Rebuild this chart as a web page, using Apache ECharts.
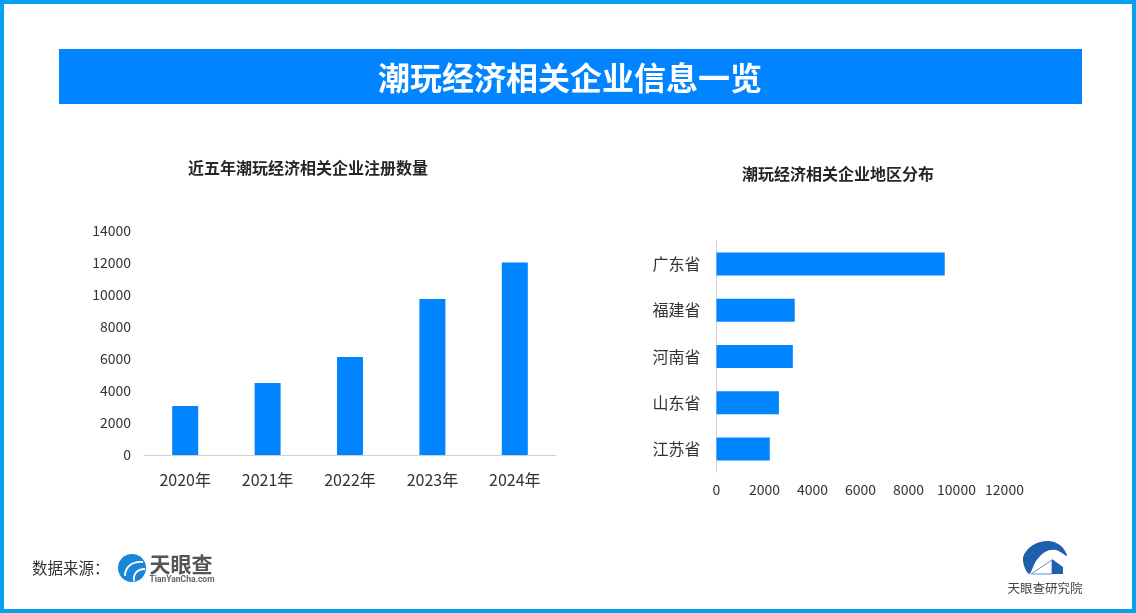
<!DOCTYPE html>
<html>
<head>
<meta charset="utf-8">
<style>
html, body { margin: 0; padding: 0; background: #fff; }
#main { width: 1136px; height: 613px; }
</style>
<script src="https://cdn.jsdelivr.net/npm/echarts@6/dist/echarts.min.js"></script>
</head>
<body>
<div id="main"></div>
<script>
var years = ['2020年', '2021年', '2022年', '2023年', '2024年'];
var yearValues = [3060, 4500, 6130, 9750, 12030];
var provinces = ['广东省', '福建省', '河南省', '山东省', '江苏省'];
var provinceValues = [9510, 3260, 3180, 2600, 2220];

var FONT = '"Noto Sans CJK SC", sans-serif';
var BLUE = '#0084ff';
var TEXT = '#333333';

// 刻度不要千分位
function plainNumber(v) {
    return String(v);
}

var chart = echarts.init(document.getElementById('main'));

var option = {
    backgroundColor: '#ffffff',
    animation: false,
    textStyle: { fontFamily: FONT },
    title: [
        {
            text: '近五年潮玩经济相关企业注册数量',
            left: 303, top: 155, textAlign: 'center',
            textStyle: { fontFamily: FONT, fontSize: 16, fontWeight: 'bold', color: '#262626' }
        },
        {
            text: '潮玩经济相关企业地区分布',
            left: 833, top: 161, textAlign: 'center',
            textStyle: { fontFamily: FONT, fontSize: 16, fontWeight: 'bold', color: '#262626' }
        }
    ],
    grid: [
        { left: 144, top: 231, width: 412, height: 224 },
        { left: 716.5, top: 241, width: 288, height: 231 }
    ],
    xAxis: [
        {
            gridIndex: 0,
            type: 'category',
            data: years,
            axisLine: { lineStyle: { color: '#d0d0d0', width: 1 } },
            axisTick: { show: false },
            axisLabel: { fontFamily: FONT, fontSize: 16, color: TEXT, margin: 17 }
        },
        {
            gridIndex: 1,
            type: 'value',
            min: 0, max: 12000, interval: 2000,
            axisLine: { show: false },
            axisTick: { show: false },
            splitLine: { show: false },
            axisLabel: { fontFamily: FONT, fontSize: 14, color: TEXT, margin: 11, formatter: plainNumber }
        }
    ],
    yAxis: [
        {
            gridIndex: 0,
            type: 'value',
            min: 0, max: 14000, interval: 2000,
            axisLine: { show: false },
            axisTick: { show: false },
            splitLine: { show: false },
            axisLabel: { fontFamily: FONT, fontSize: 14, color: TEXT, margin: 13, formatter: plainNumber }
        },
        {
            gridIndex: 1,
            type: 'category',
            inverse: true,
            data: provinces,
            axisLine: { lineStyle: { color: '#d0d0d0', width: 1 } },
            axisTick: { show: false },
            axisLabel: { fontFamily: FONT, fontSize: 16, color: TEXT, margin: 16 }
        }
    ],
    series: [
        {
            type: 'bar',
            xAxisIndex: 0, yAxisIndex: 0,
            data: yearValues,
            barWidth: 26,
            itemStyle: { color: BLUE }
        },
        {
            type: 'bar',
            xAxisIndex: 1, yAxisIndex: 1,
            data: provinceValues,
            barWidth: 23,
            itemStyle: { color: BLUE }
        }
    ],
    graphic: [
        // 外边框
        { type: 'rect', shape: { x: 2, y: 2, width: 1132, height: 609 }, style: { fill: 'none', stroke: '#0aa0f0', lineWidth: 4 } },
        // 标题条
        { type: 'rect', shape: { x: 59, y: 49, width: 1023, height: 55 }, style: { fill: BLUE } },
        { type: 'text', x: 570, y: 78, style: { text: '潮玩经济相关企业信息一览', fontFamily: FONT, fontSize: 32, fontWeight: 'bold', fill: '#ffffff', align: 'center', verticalAlign: 'middle' } },
        // 数据来源
        { type: 'text', x: 32, y: 568, style: { text: '数据来源：', fontFamily: FONT, fontSize: 15.5, fill: TEXT, align: 'left', verticalAlign: 'middle' } },
        // 天眼查 logo
        { type: 'circle', shape: { cx: 132, cy: 568, r: 14 }, style: { fill: '#1a86d8' } },
        { type: 'bezierCurve', shape: { x1: 125, y1: 576, cpx1: 125, cpy1: 567, cpx2: 132, cpy2: 561, x2: 143, y2: 562 }, style: { fill: 'none', stroke: '#ffffff', lineWidth: 1.8 } },
        { type: 'bezierCurve', shape: { x1: 134, y1: 581, cpx1: 133, cpy1: 574, cpx2: 137, cpy2: 569, x2: 145, y2: 569 }, style: { fill: 'none', stroke: '#ffffff', lineWidth: 1.8 } },
        { type: 'text', x: 181, y: 564, style: { text: '天眼查', fontFamily: FONT, fontSize: 21, fontWeight: 'bold', fill: '#555555', align: 'center', verticalAlign: 'middle' } },
        { type: 'text', x: 182, y: 580, style: { text: 'TianYanCha.com', fontFamily: 'Roboto, sans-serif', fontSize: 8.5, fontWeight: 'bold', fill: '#666666', align: 'center', verticalAlign: 'middle' } },
        // 研究院 logo
        { type: 'polygon', shape: { smooth: 0.35, points: [[1029, 574], [1023, 558], [1033, 545], [1049, 541], [1061, 546], [1067, 556], [1056, 550], [1045, 552], [1036, 561]] }, style: { fill: '#1f5fae' } },
        { type: 'polygon', shape: { points: [[1031, 574], [1052, 560], [1052, 574]] }, style: { fill: 'none', stroke: '#5f8fc8', lineWidth: 1 } },
        { type: 'polygon', shape: { points: [[1052, 559], [1063, 567], [1063, 574], [1052, 574]] }, style: { fill: '#1f5fae' } },
        { type: 'text', x: 1045, y: 588, style: { text: '天眼查研究院', fontFamily: FONT, fontSize: 12.5, fill: '#444444', align: 'center', verticalAlign: 'middle' } }
    ]
};

chart.setOption(option);

window.onresize = function() {
    chart.resize();
};
</script>
</body>
</html>
